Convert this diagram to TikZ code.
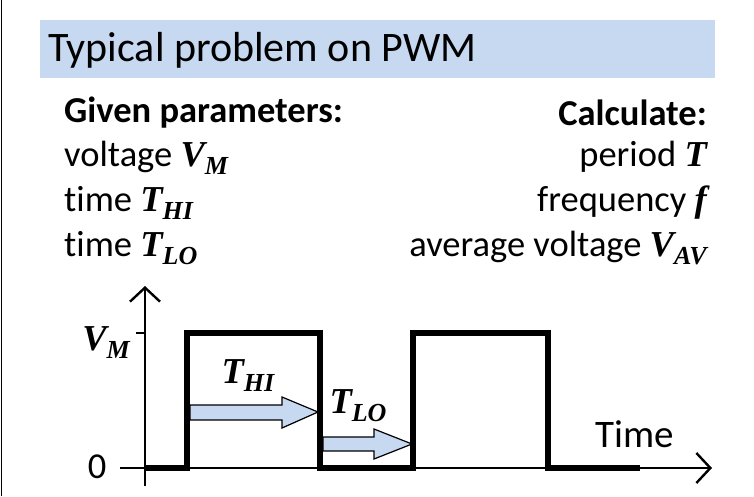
\documentclass[tikz,border=0pt]{standalone}
\usepackage{fontspec}
\setmainfont{Carlito}[Ligatures={NoCommon}]
\newfontfamily\mathbi{Liberation Serif}[BoldItalicFont={* Bold Italic}]
\usetikzlibrary{arrows.meta}
\newcommand{\mv}[2]{{\mathbi\bfseries\itshape #1}\raisebox{-0.22em}{\fontsize{26}{28}\selectfont\mathbi\bfseries\itshape #2}}
\definecolor{band}{RGB}{198,217,240}
\definecolor{arr}{RGB}{198,217,240}
\tikzset{
 txt/.style={font=\fontsize{36.5}{40}\selectfont, inner sep=0pt},
 wave/.style={line width=6pt, line join=miter},
 ax/.style={line width=2.4pt, -{Straight Barb[length=14pt,width=30pt,line width=2.4pt]}},
 blk/.style={draw=black, fill=arr, line width=1.2pt}
}
\begin{document}
\begin{tikzpicture}[x=1pt,y=-1pt]
\useasboundingbox (0,0) rectangle (754,496);
\draw[line width=1pt] (1,0) -- (1,496);
\fill[band] (40,20) rectangle (715,78);
\node[anchor=west, font=\fontsize{42}{46}\selectfont, inner sep=0pt] (title) at (48,50) {Typical problem on PWM};
\node[txt, anchor=west] (given) at (64,113) {\bfseries Given parameters:};
\node[txt, anchor=west] (g1) at (64,158) {voltage \mv{V}{M}};
\node[txt, anchor=west] (g2) at (64,203) {time \mv{T}{HI}};
\node[txt, anchor=west] (g3) at (64,248) {time \mv{T}{LO}};
\node[txt, anchor=east] (calc) at (707,113) {\bfseries Calculate:};
\node[txt, anchor=east] (c1) at (707,158) {period \mv{T}{}};
\node[txt, anchor=east] (c2) at (707,203) {frequency \mv{f}{}};
\node[txt, anchor=east] (c3) at (707,248) {average voltage \mv{V}{AV}};
% axes
\coordinate (ybot) at (145,486);
\coordinate (ytop) at (145,286);
\coordinate (xl) at (120,468);
\coordinate (xr) at (712,468);
\draw[ax] (ybot) -- (ytop);
\draw[ax] (xl) -- (xr);
\coordinate (t1) at (136,333);
\coordinate (t2) at (145,333);
\draw[line width=2pt] (t1) -- (t2);
\node[txt, anchor=east] (vm) at (130,343) {\mv{V}{M}};
\node[txt] (zero) at (97,467) {0};
% waveform
\draw[wave] (145,468) -- (187,468) -- (187,333) -- (320,333) -- (320,468) -- (413,468) -- (413,333) -- (548,333) -- (548,468) -- (640,468);
% block arrows
\draw[blk] (190,405) -- (282,405) -- (282,397) -- (318,412) -- (282,428) -- (282,420) -- (190,420) -- cycle;
\draw[blk] (323,437) -- (374,437) -- (374,429) -- (412,444) -- (374,459) -- (374,451) -- (323,451) -- cycle;
\node[txt] (thi) at (248,376) {\mv{T}{HI}};
\node[txt] (tlo) at (358,406) {\mv{T}{LO}};
\node[txt, font=\fontsize{39}{42}\selectfont] (time) at (635,434) {Time};
\end{tikzpicture}
\end{document}
